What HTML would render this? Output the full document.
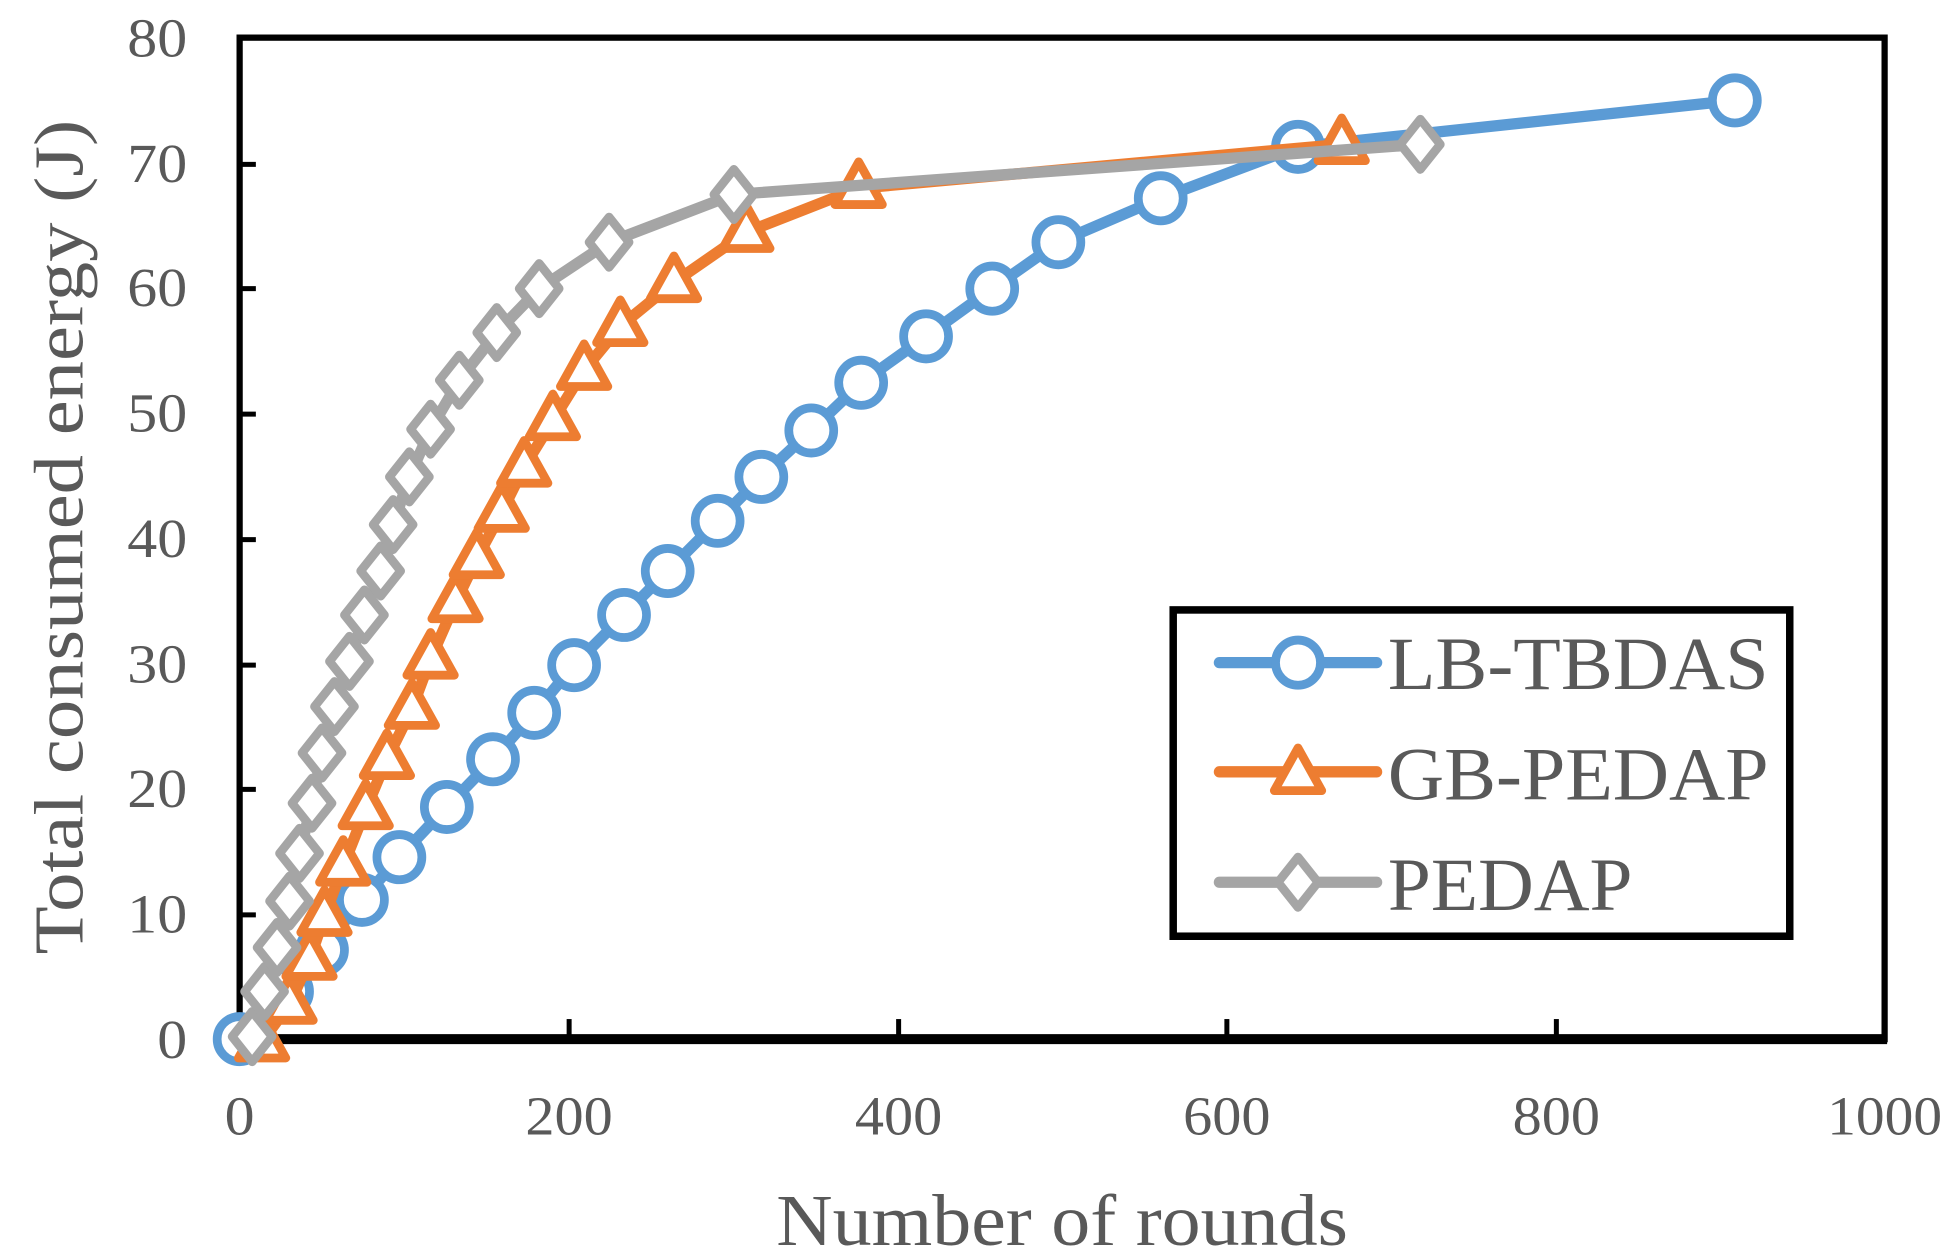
<!DOCTYPE html>
<html><head><style>html,body{margin:0;padding:0;background:#fff}svg{display:block}</style></head>
<body>
<svg width="1957" height="1255" viewBox="0 0 1568 1000" preserveAspectRatio="none" xmlns="http://www.w3.org/2000/svg" font-family="Liberation Serif, serif" fill="#595959">
<rect width="1568" height="1000" fill="#fff"/>
<g stroke="#000" stroke-width="4">
<line x1="192" y1="131" x2="205" y2="131"/><line x1="192" y1="230" x2="205" y2="230"/>
<line x1="192" y1="330" x2="205" y2="330"/><line x1="192" y1="430" x2="205" y2="430"/>
<line x1="192" y1="530" x2="205" y2="530"/><line x1="192" y1="629" x2="205" y2="629"/>
<line x1="192" y1="729" x2="205" y2="729"/>
<line x1="456" y1="828" x2="456" y2="812"/><line x1="720" y1="828" x2="720" y2="812"/>
<line x1="983" y1="828" x2="983" y2="812"/><line x1="1247" y1="828" x2="1247" y2="812"/>
</g>
<rect x="192" y="30" width="1318" height="798" fill="none" stroke="#000" stroke-width="5"/>
<line x1="190" y1="828" x2="1512" y2="828" stroke="#000" stroke-width="8"/>
<g font-size="44" text-anchor="end">
<text x="150" y="45" textLength="48" lengthAdjust="spacingAndGlyphs">80</text>
<text x="150" y="145" textLength="48" lengthAdjust="spacingAndGlyphs">70</text>
<text x="150" y="244" textLength="48" lengthAdjust="spacingAndGlyphs">60</text>
<text x="150" y="344" textLength="48" lengthAdjust="spacingAndGlyphs">50</text>
<text x="150" y="444" textLength="48" lengthAdjust="spacingAndGlyphs">40</text>
<text x="150" y="544" textLength="48" lengthAdjust="spacingAndGlyphs">30</text>
<text x="150" y="643" textLength="48" lengthAdjust="spacingAndGlyphs">20</text>
<text x="150" y="743" textLength="48" lengthAdjust="spacingAndGlyphs">10</text>
<text x="150" y="843" textLength="24" lengthAdjust="spacingAndGlyphs">0</text>
</g>
<g font-size="44" text-anchor="middle">
<text x="192" y="904" textLength="24" lengthAdjust="spacingAndGlyphs">0</text>
<text x="456" y="904" textLength="70" lengthAdjust="spacingAndGlyphs">200</text>
<text x="720" y="904" textLength="70" lengthAdjust="spacingAndGlyphs">400</text>
<text x="983" y="904" textLength="70" lengthAdjust="spacingAndGlyphs">600</text>
<text x="1247" y="904" textLength="70" lengthAdjust="spacingAndGlyphs">800</text>
<text x="1510" y="904" textLength="92" lengthAdjust="spacingAndGlyphs">1000</text>
</g>
<text x="851" y="992" font-size="58" text-anchor="middle" textLength="458" lengthAdjust="spacingAndGlyphs">Number of rounds</text>
<text transform="translate(66,428) rotate(-90)" font-size="56" text-anchor="middle" textLength="665" lengthAdjust="spacingAndGlyphs">Total consumed energy (J)</text>
<defs>
<circle id="c" r="18" fill="#fff" stroke="#5B9BD5" stroke-width="7"/>
<path id="t" d="M0,-21 L19,13 L-19,13 Z" fill="#fff" stroke="#ED7D31" stroke-width="7" stroke-linejoin="round"/>
<path id="d" d="M0,-20 L16,0 L0,20 L-16,0 Z" fill="#fff" stroke="#A5A5A5" stroke-width="7" stroke-linejoin="round"/>
</defs>
<polyline fill="none" stroke="#5B9BD5" stroke-width="9" stroke-linejoin="round" points="192,828 230,790 258,757 290,717 320,683 358,643 395,605 428,568 460,530 500,490 535,455 575,415 610,380 650,343 690,305 742,268 795,230 848,193 930,158 1040,117 1390,80"/>
<g>
<use href="#c" x="192" y="828"/><use href="#c" x="230" y="790"/><use href="#c" x="258" y="757"/><use href="#c" x="290" y="717"/><use href="#c" x="320" y="683"/><use href="#c" x="358" y="643"/><use href="#c" x="395" y="605"/><use href="#c" x="428" y="568"/><use href="#c" x="460" y="530"/><use href="#c" x="500" y="490"/><use href="#c" x="535" y="455"/><use href="#c" x="575" y="415"/><use href="#c" x="610" y="380"/><use href="#c" x="650" y="343"/><use href="#c" x="690" y="305"/><use href="#c" x="742" y="268"/><use href="#c" x="795" y="230"/><use href="#c" x="848" y="193"/><use href="#c" x="930" y="158"/><use href="#c" x="1040" y="117"/><use href="#c" x="1390" y="80"/>
</g>
<polyline fill="none" stroke="#ED7D31" stroke-width="9" stroke-linejoin="round" points="210,830 232,800 248,765 260,730 275,690 293,645 310,605 330,565 345,525 365,480 382,445 402,408 420,372 443,335 468,295 497,260 540,225 598,185 688,150 1075,115"/>
<g>
<use href="#t" x="210" y="830"/><use href="#t" x="232" y="800"/><use href="#t" x="248" y="765"/><use href="#t" x="260" y="730"/><use href="#t" x="275" y="690"/><use href="#t" x="293" y="645"/><use href="#t" x="310" y="605"/><use href="#t" x="330" y="565"/><use href="#t" x="345" y="525"/><use href="#t" x="365" y="480"/><use href="#t" x="382" y="445"/><use href="#t" x="402" y="408"/><use href="#t" x="420" y="372"/><use href="#t" x="443" y="335"/><use href="#t" x="468" y="295"/><use href="#t" x="497" y="260"/><use href="#t" x="540" y="225"/><use href="#t" x="598" y="185"/><use href="#t" x="688" y="150"/><use href="#t" x="1075" y="115"/>
</g>
<polyline fill="none" stroke="#A5A5A5" stroke-width="9" stroke-linejoin="round" points="202,826 212,790 222,755 232,718 240,680 250,640 258,600 268,563 280,527 292,490 305,455 315,418 328,380 345,342 368,303 398,265 432,230 488,193 588,155 1138,115"/>
<g>
<use href="#d" x="202" y="826"/><use href="#d" x="212" y="790"/><use href="#d" x="222" y="755"/><use href="#d" x="232" y="718"/><use href="#d" x="240" y="680"/><use href="#d" x="250" y="640"/><use href="#d" x="258" y="600"/><use href="#d" x="268" y="563"/><use href="#d" x="280" y="527"/><use href="#d" x="292" y="490"/><use href="#d" x="305" y="455"/><use href="#d" x="315" y="418"/><use href="#d" x="328" y="380"/><use href="#d" x="345" y="342"/><use href="#d" x="368" y="303"/><use href="#d" x="398" y="265"/><use href="#d" x="432" y="230"/><use href="#d" x="488" y="193"/><use href="#d" x="588" y="155"/><use href="#d" x="1138" y="115"/>
</g>
<rect x="940" y="486" width="494" height="260" fill="#fff" stroke="#000" stroke-width="6"/>
<g stroke-width="9" stroke-linecap="round">
<line x1="977" y1="528" x2="1103" y2="528" stroke="#5B9BD5"/>
<line x1="977" y1="615" x2="1103" y2="615" stroke="#ED7D31"/>
<line x1="977" y1="703" x2="1103" y2="703" stroke="#A5A5A5"/>
</g>
<use href="#c" x="1040" y="528"/>
<use href="#t" x="1040" y="617"/>
<use href="#d" x="1040" y="703"/>
<g font-size="60">
<text x="1112" y="549" textLength="305" lengthAdjust="spacingAndGlyphs">LB-TBDAS</text>
<text x="1112" y="637" textLength="305" lengthAdjust="spacingAndGlyphs">GB-PEDAP</text>
<text x="1112" y="725" textLength="196" lengthAdjust="spacingAndGlyphs">PEDAP</text>
</g>
</svg>
</body></html>
